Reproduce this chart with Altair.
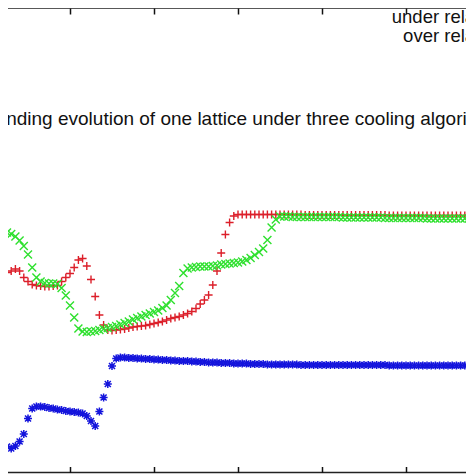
import altair as alt
import pandas as pd

# cooling step of the first listed sample (one sample per step)
first_step = 3

standard = [
    3.97, 3.98, 4.00, 4.03, 4.07, 4.03, 3.90, 3.82, 3.76, 3.74,
    3.73, 3.72, 3.72, 3.73, 3.74, 3.82, 3.90, 3.98, 4.10, 4.25,
    4.28, 4.13, 3.86, 3.52, 3.15, 2.95, 2.85, 2.84, 2.85, 2.86,
    2.87, 2.89, 2.91, 2.92, 2.93, 2.94, 2.96, 2.98, 3.00, 3.02,
    3.05, 3.08, 3.10, 3.12, 3.15, 3.18, 3.22, 3.28, 3.37, 3.45,
    3.55, 3.75, 4.03, 4.39, 4.76, 5.00, 5.13, 5.16, 5.16, 5.16,
    5.16, 5.16, 5.16, 5.16, 5.16, 5.16, 5.16, 5.16, 5.16, 5.16,
    5.16, 5.16, 5.16, 5.15, 5.15, 5.15, 5.15, 5.15, 5.15, 5.15,
    5.15, 5.15, 5.15, 5.15, 5.15, 5.15, 5.15, 5.15, 5.15, 5.15,
    5.15, 5.15, 5.15, 5.14, 5.14, 5.14, 5.14, 5.14, 5.14, 5.14,
    5.14, 5.14, 5.14, 5.14, 5.14, 5.14, 5.14, 5.14, 5.14, 5.14,
    5.14, 5.14, 5.14, 5.14, 5.14,
]

under_relax = [
    4.78, 4.79, 4.80, 4.77, 4.72, 4.64, 4.53, 4.36, 4.10, 3.90,
    3.82, 3.79, 3.78, 3.78, 3.77, 3.69, 3.54, 3.34, 3.10, 2.88,
    2.82, 2.81, 2.82, 2.83, 2.85, 2.87, 2.89, 2.91, 2.93, 2.96,
    2.99, 3.02, 3.06, 3.09, 3.12, 3.15, 3.18, 3.21, 3.24, 3.29,
    3.34, 3.45, 3.59, 3.73, 3.99, 4.08, 4.10, 4.11, 4.12, 4.12,
    4.12, 4.13, 4.14, 4.16, 4.17, 4.18, 4.19, 4.20, 4.22, 4.25,
    4.29, 4.35, 4.41, 4.48, 4.65, 4.90, 5.06, 5.12, 5.12, 5.12,
    5.11, 5.11, 5.11, 5.11, 5.11, 5.11, 5.11, 5.11, 5.11, 5.11,
    5.11, 5.11, 5.10, 5.10, 5.10, 5.10, 5.10, 5.10, 5.10, 5.10,
    5.10, 5.10, 5.09, 5.09, 5.09, 5.09, 5.09, 5.09, 5.09, 5.09,
    5.09, 5.09, 5.08, 5.08, 5.08, 5.08, 5.08, 5.08, 5.08, 5.08,
    5.08, 5.08, 5.08, 5.08, 5.08,
]

over_relax = [
    1.03, 0.75, 0.52, 0.48, 0.53, 0.62, 0.77, 1.08, 1.28, 1.32,
    1.32, 1.31, 1.29, 1.28, 1.26, 1.25, 1.23, 1.22, 1.21, 1.20,
    1.18, 1.13, 1.03, 0.93, 1.22, 1.50, 1.77, 2.13, 2.28, 2.30,
    2.30, 2.29, 2.29, 2.28, 2.28, 2.27, 2.27, 2.26, 2.26, 2.25,
    2.25, 2.24, 2.24, 2.23, 2.23, 2.23, 2.22, 2.22, 2.21, 2.21,
    2.20, 2.20, 2.20, 2.19, 2.19, 2.19, 2.18, 2.18, 2.18, 2.18,
    2.17, 2.17, 2.17, 2.17, 2.16, 2.16, 2.16, 2.16, 2.16, 2.16,
    2.16, 2.16, 2.15, 2.15, 2.15, 2.15, 2.15, 2.15, 2.15, 2.15,
    2.15, 2.15, 2.15, 2.15, 2.15, 2.15, 2.15, 2.15, 2.15, 2.15,
    2.15, 2.15, 2.15, 2.14, 2.14, 2.14, 2.14, 2.14, 2.14, 2.14,
    2.14, 2.14, 2.14, 2.14, 2.14, 2.14, 2.14, 2.14, 2.14, 2.14,
    2.14, 2.14, 2.14, 2.14, 2.14,
]

x_ticks = [20, 40, 60, 80, 100, 120]

title_text = ["Winding evolution of one lattice under three cooling algorithms"]
title_pos = [61.9, 6.95]
key_labels = ["under relaxation", "over relaxation"]
key_step = 128.2
key_values = [8.99, 8.61]

X_DOMAIN = [0, 130]
Y_DOMAIN = [0, 9.29]


def frame(vals):
    return pd.DataFrame({"step": list(range(first_step, first_step + len(vals))), "value": vals})


xs = alt.Scale(domain=X_DOMAIN, nice=False, zero=False)
ys = alt.Scale(domain=Y_DOMAIN, nice=False, zero=False)

PLUS = "M-1,0H1M0,-1V1"
CROSS = "M-1,-1L1,1M1,-1L-1,1"
STAR = "M-1,0H1M0,-1V1M-0.75,-0.75L0.75,0.75M0.75,-0.75L-0.75,0.75"

bottom_axis = alt.Axis(orient="bottom", values=x_ticks, labels=False, domain=False, grid=False,
                       ticks=True, tickSize=6, offset=-6, tickColor="#111", tickWidth=1.5, title=None)
top_axis = alt.Axis(orient="top", values=x_ticks, labels=False, domain=False, grid=False,
                    ticks=True, tickSize=6, offset=-6, tickColor="#111", tickWidth=1.5, title=None)

red = alt.Chart(frame(standard)).mark_point(shape=PLUS, filled=False, size=64, strokeWidth=1.4,
                                            color="#dc1f2a", opacity=1).encode(
    x=alt.X("step:Q", scale=xs, axis=bottom_axis),
    y=alt.Y("value:Q", scale=ys, axis=None),
)
green = alt.Chart(frame(under_relax)).mark_point(shape=CROSS, filled=False, size=64, strokeWidth=1.4,
                                                 color="#2ee02e", opacity=1).encode(
    x=alt.X("step:Q", scale=xs, axis=top_axis),
    y=alt.Y("value:Q", scale=ys, axis=None),
)
blue = alt.Chart(frame(over_relax)).mark_point(shape=STAR, filled=False, size=64, strokeWidth=1.5,
                                               color="#1414dc", opacity=1).encode(
    x=alt.X("step:Q", scale=xs, axis=None),
    y=alt.Y("value:Q", scale=ys, axis=None),
)

title_df = pd.DataFrame({"label": title_text, "step": [title_pos[0]], "value": [title_pos[1]]})
title_layer = alt.Chart(title_df).mark_text(font="Liberation Sans", fontSize=19, align="center",
                                            baseline="alphabetic", color="#111").encode(
    x=alt.X("step:Q", scale=xs, axis=None),
    y=alt.Y("value:Q", scale=ys, axis=None),
    text="label:N",
)

key_df = pd.DataFrame({"label": key_labels, "step": [key_step] * len(key_labels), "value": key_values})
key_layer = alt.Chart(key_df).mark_text(font="Liberation Sans", fontSize=18.5, align="right",
                                        baseline="alphabetic", color="#111").encode(
    x=alt.X("step:Q", scale=xs, axis=None),
    y=alt.Y("value:Q", scale=ys, axis=None),
    text="label:N",
)

chart = alt.layer(red, green, blue, title_layer, key_layer).resolve_axis(
    x="independent", y="independent"
).properties(
    width=546,
    height=464.5,
    autosize=alt.AutoSizeParams(type="none"),
    padding={"left": -22, "top": 0, "right": -66, "bottom": 1.5},
    background="white",
).configure_view(stroke="#222", strokeWidth=1.5)

chart.save("out.html", embed_options={"renderer": "svg", "actions": False})
